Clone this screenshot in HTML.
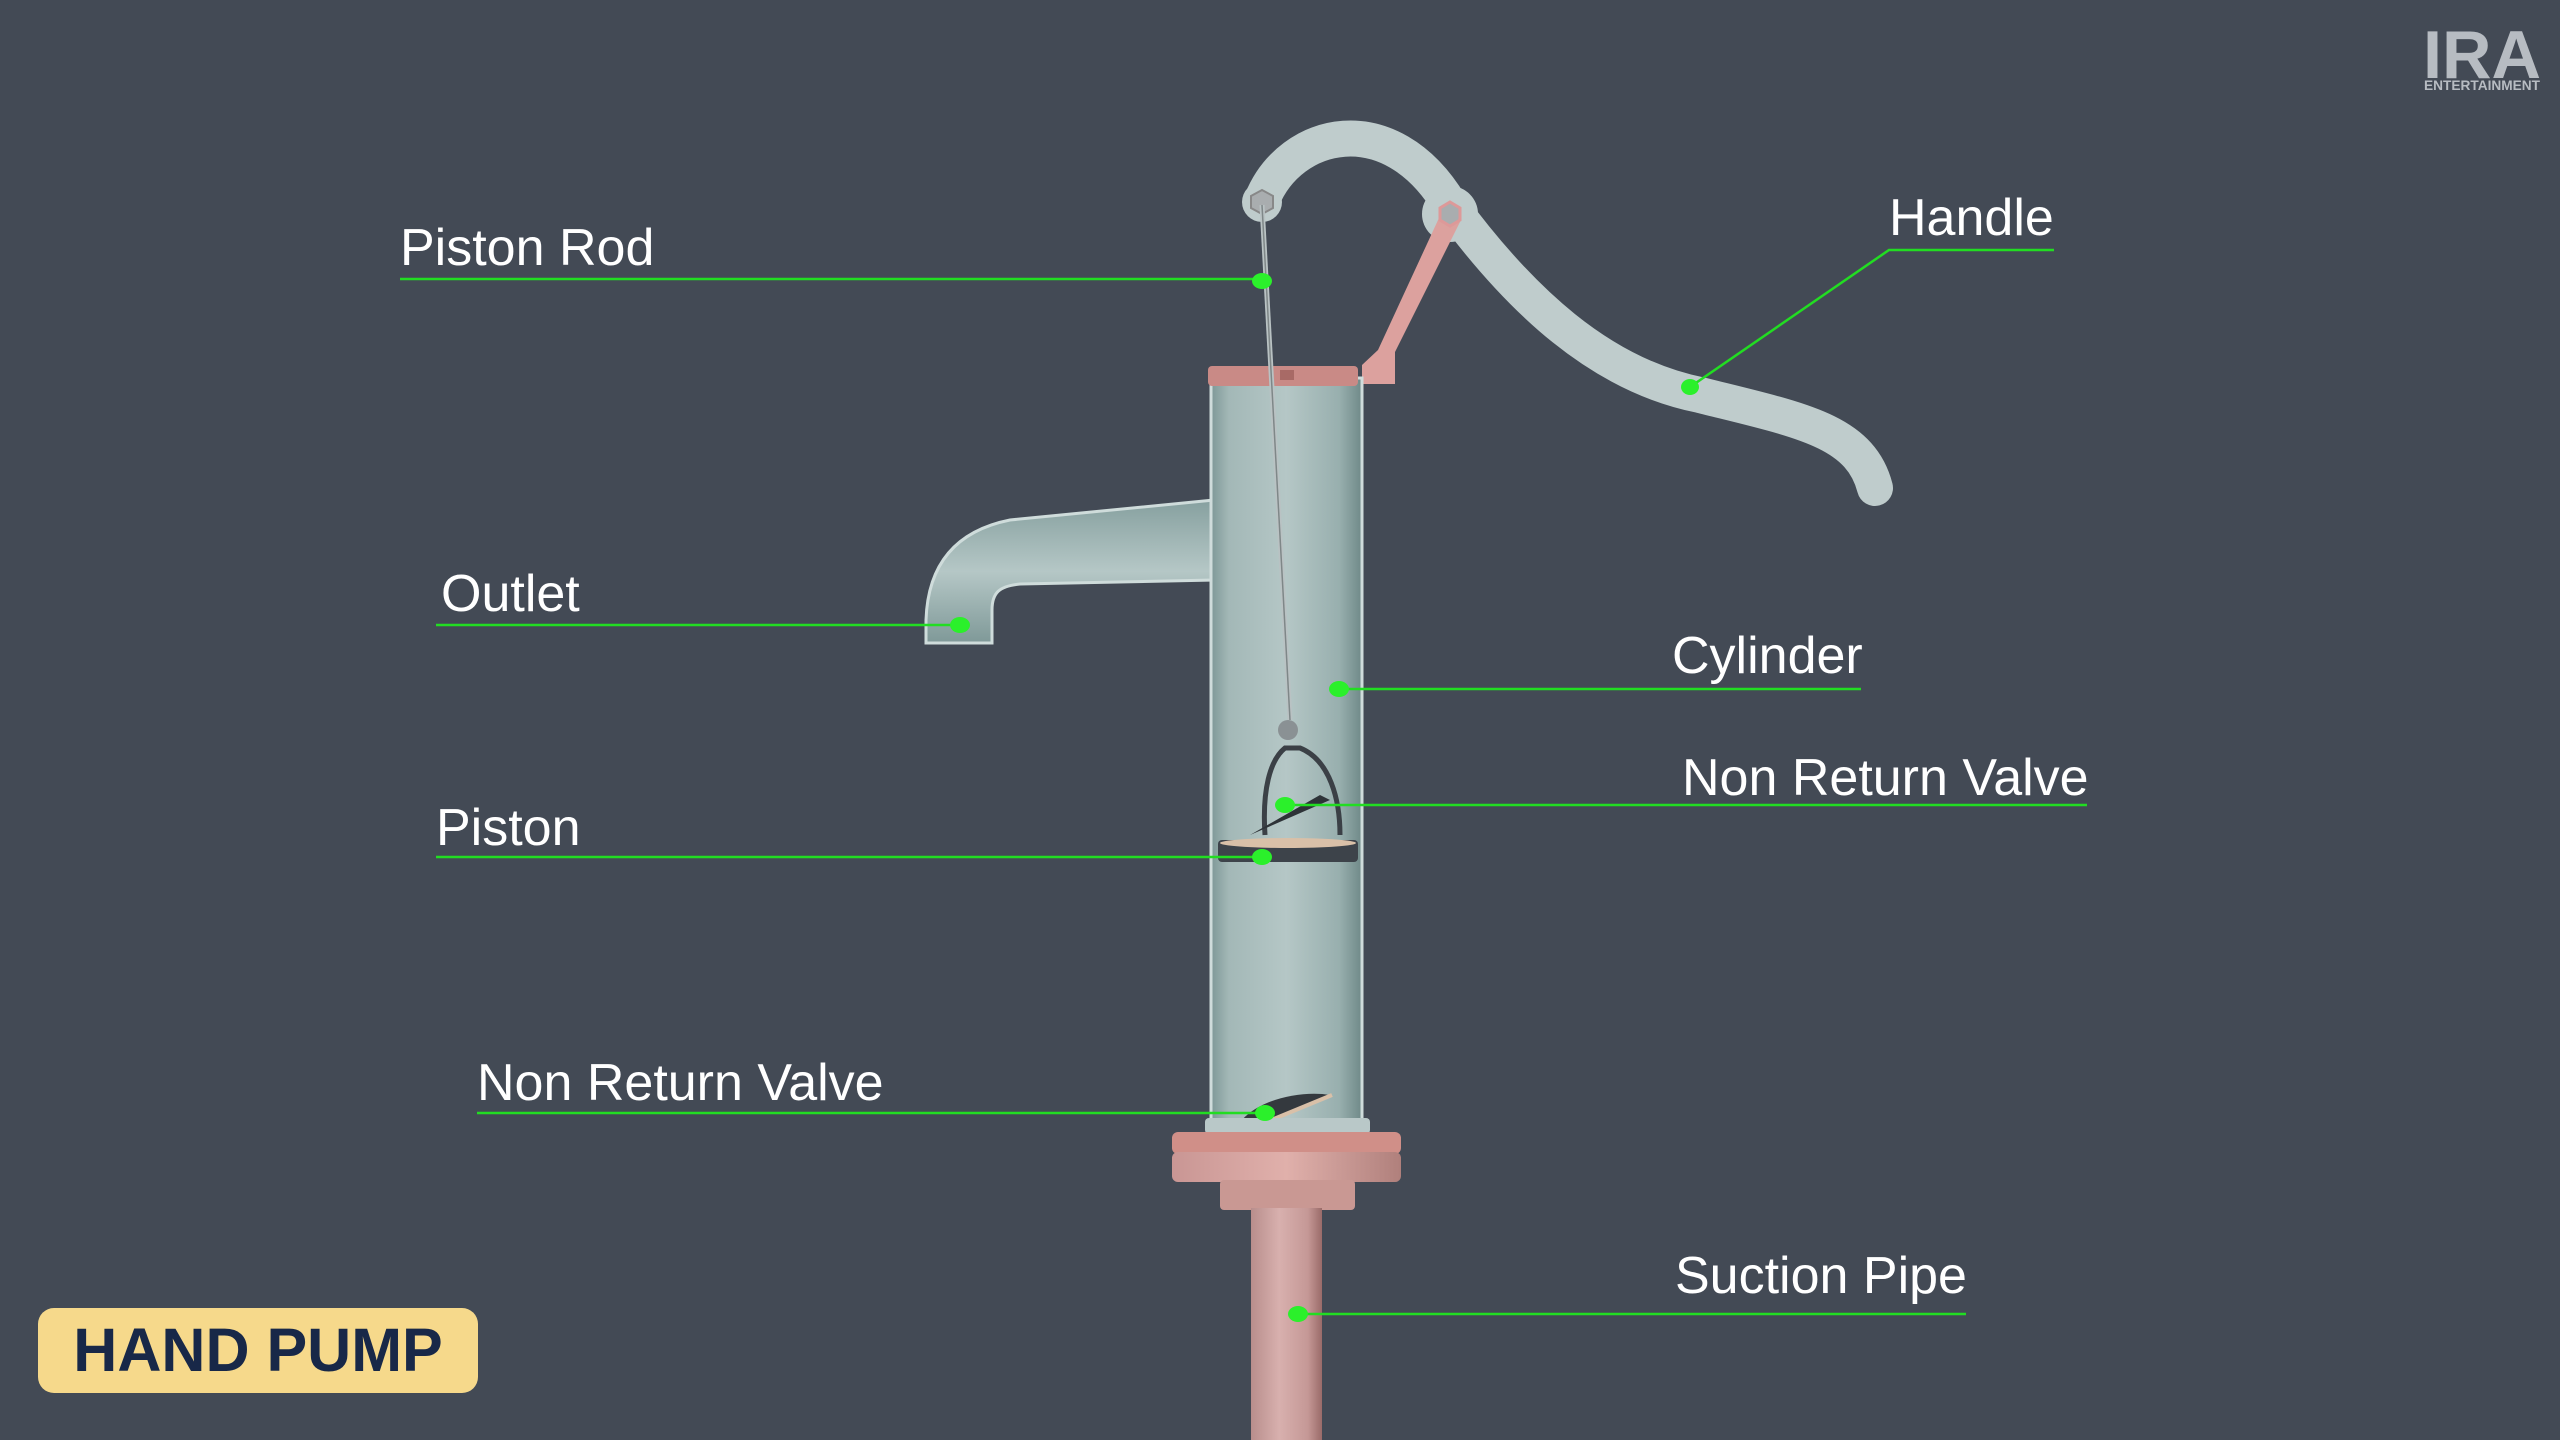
<!DOCTYPE html>
<html><head><meta charset="utf-8"><style>
html,body{margin:0;padding:0;background:#434a55;}
body{width:2560px;height:1440px;overflow:hidden;position:relative;font-family:"Liberation Sans",sans-serif;}
.lbl{position:absolute;color:#fff;font-size:52px;line-height:1;white-space:nowrap;}
.badge{position:absolute;left:38px;top:1308px;width:440px;height:85px;background:#f6d98b;border-radius:16px;color:#182848;font-weight:bold;font-size:61px;line-height:85px;text-align:center;}
</style></head><body>
<svg width="2560" height="1440" viewBox="0 0 2560 1440" style="position:absolute;left:0;top:0">
<defs>
<linearGradient id="cyl" x1="0" x2="1" y1="0" y2="0">
<stop offset="0" stop-color="#7e9897"/><stop offset="0.12" stop-color="#a3b8b7"/><stop offset="0.5" stop-color="#b5c7c6"/><stop offset="0.85" stop-color="#98afae"/><stop offset="1" stop-color="#6f8988"/>
</linearGradient>
<linearGradient id="out" x1="0" x2="0" y1="0" y2="1">
<stop offset="0" stop-color="#86a09f"/><stop offset="0.5" stop-color="#b5c7c6"/><stop offset="1" stop-color="#7f9998"/>
</linearGradient>
<linearGradient id="pipe" x1="0" x2="1" y1="0" y2="0">
<stop offset="0" stop-color="#b88e8c"/><stop offset="0.4" stop-color="#d8b0ae"/><stop offset="0.8" stop-color="#c59896"/><stop offset="1" stop-color="#9a6b69"/>
</linearGradient>
<linearGradient id="fl" x1="0" x2="1" y1="0" y2="0">
<stop offset="0" stop-color="#c99694"/><stop offset="0.5" stop-color="#e0b0ab"/><stop offset="1" stop-color="#b0807c"/>
</linearGradient>
</defs>
<path d="M1262,200 C1290,130 1390,105 1450,205 C1520,300 1600,375 1700,395 C1800,420 1860,430 1875,488" fill="none" stroke="#bfcccc" stroke-width="36" stroke-linecap="round"/>
<circle cx="1262" cy="202" r="20" fill="#bfcccc"/>
<circle cx="1450" cy="214" r="28" fill="#bfcccc"/>
<path d="M1445,205 L1460,222 L1395,352 L1395,384 L1362,384 L1362,365 L1378,350 Z" fill="#dca19e"/>
<polygon points="1262,190 1273,196 1273,208 1262,214 1251,208 1251,196" fill="#a9adaf" stroke="#888" stroke-width="2"/>
<polygon points="1450,202 1460,208 1460,220 1450,226 1440,220 1440,208" fill="#a9adaf" stroke="#d99" stroke-width="3"/>
<path d="M1214,500 L1010,520 C960,530 928,560 926,620 L926,643 L992,643 L992,610 C992,592 1000,586 1020,584 L1214,580 Z" fill="url(#out)" stroke="#cfdcdb" stroke-width="3"/>
<rect x="1211" y="378" width="151" height="750" fill="url(#cyl)" stroke="#cfdcdb" stroke-width="3"/>
<rect x="1208" y="366" width="150" height="20" rx="4" fill="#c98a86"/>
<rect x="1280" y="370" width="14" height="10" fill="#a86a66"/>
<line x1="1262" y1="205" x2="1290" y2="720" stroke="#b9c2c3" stroke-width="5"/>
<line x1="1262" y1="205" x2="1290" y2="720" stroke="#7f8788" stroke-width="1.5"/>
<circle cx="1288" cy="730" r="10" fill="#8a9194"/>
<path d="M1265,835 C1262,790 1270,760 1285,748 L1300,748 C1330,760 1340,800 1340,835" fill="none" stroke="#3b4046" stroke-width="5"/>
<path d="M1250,835 L1320,795 L1330,800 Z" fill="#2e3338"/>
<rect x="1218" y="840" width="140" height="22" rx="4" fill="#3d434a"/>
<ellipse cx="1288" cy="843" rx="68" ry="5" fill="#d9c0a8"/>
<path d="M1235,1130 C1250,1100 1300,1090 1330,1095 L1235,1135 Z" fill="#34393e"/>
<line x1="1235" y1="1135" x2="1332" y2="1095" stroke="#d9c0a8" stroke-width="4"/>
<rect x="1205" y="1118" width="165" height="16" rx="4" fill="#b9c8c8"/>
<rect x="1172" y="1132" width="229" height="22" rx="6" fill="#d08f88"/>
<rect x="1172" y="1152" width="229" height="30" rx="6" fill="url(#fl)"/>
<rect x="1220" y="1180" width="135" height="30" rx="4" fill="#c99893"/>
<rect x="1251" y="1208" width="71" height="232" fill="url(#pipe)"/>
<g stroke="#22dd22" stroke-width="2.5" fill="none">
<polyline points="400,279 1262,279"/>
<polyline points="436,625 960,625"/>
<polyline points="436,857 1262,857"/>
<polyline points="477,1113 1265,1113"/>
<polyline points="2054,250 1889,250 1690,387"/>
<polyline points="1339,689 1861,689"/>
<polyline points="1285,805 2087,805"/>
<polyline points="1298,1314 1966,1314"/>
</g>
<g fill="#2bf02b">
<ellipse cx="1262" cy="281" rx="10" ry="8"/>
<ellipse cx="960" cy="625" rx="10" ry="8"/>
<ellipse cx="1262" cy="857" rx="10" ry="8"/>
<ellipse cx="1265" cy="1113" rx="10" ry="8"/>
<ellipse cx="1690" cy="387" rx="9" ry="8"/>
<ellipse cx="1339" cy="689" rx="10" ry="8"/>
<ellipse cx="1285" cy="805" rx="10" ry="8"/>
<ellipse cx="1298" cy="1314" rx="10" ry="8"/>
</g>
<text x="2482" y="78" text-anchor="middle" font-family="Liberation Sans,sans-serif" font-weight="bold" font-size="68" fill="#b7bcc2" textLength="118" lengthAdjust="spacingAndGlyphs">IRA</text>
<text x="2482" y="90" text-anchor="middle" font-family="Liberation Sans,sans-serif" font-weight="bold" font-size="14" fill="#b7bcc2" textLength="116" lengthAdjust="spacingAndGlyphs">ENTERTAINMENT</text>
</svg>
<div class="lbl" style="left:400px;top:222px">Piston Rod</div>
<div class="lbl" style="left:441px;top:568px">Outlet</div>
<div class="lbl" style="left:436px;top:802px">Piston</div>
<div class="lbl" style="left:477px;top:1057px">Non Return Valve</div>
<div class="lbl" style="left:1889px;top:192px">Handle</div>
<div class="lbl" style="left:1672px;top:630px">Cylinder</div>
<div class="lbl" style="left:1682px;top:752px">Non Return Valve</div>
<div class="lbl" style="left:1675px;top:1250px">Suction Pipe</div>
<div class="badge">HAND PUMP</div>
</body></html>
